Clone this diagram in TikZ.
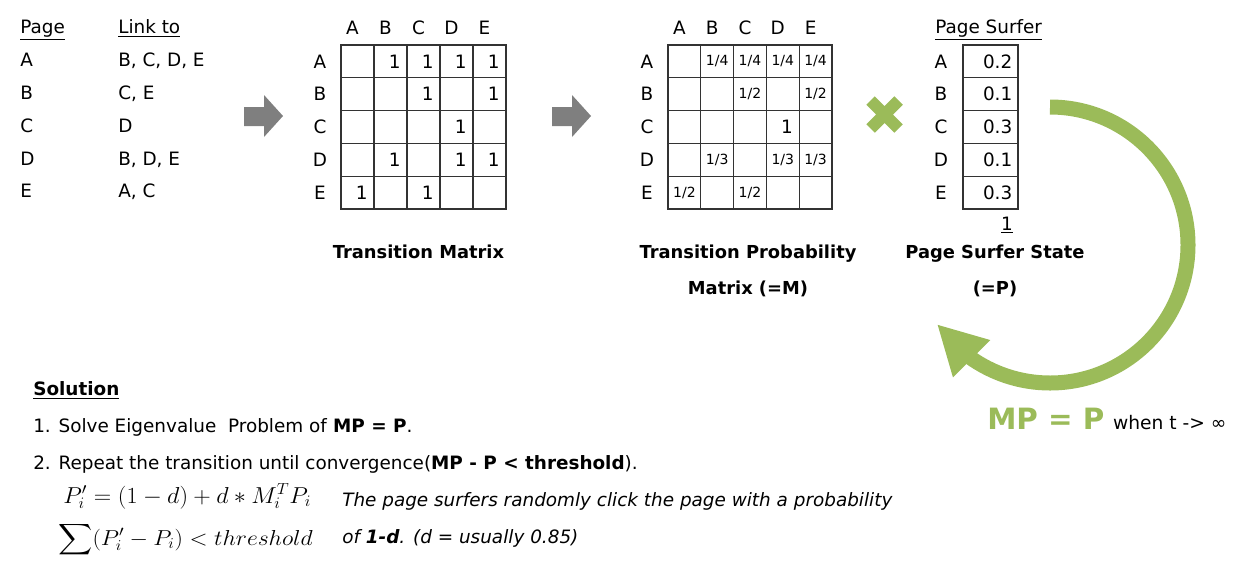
\documentclass[tikz,border=0pt]{standalone}
\usepackage{exscale}
\usepackage{fontspec}
\setmainfont{DejaVu Sans}
\usepackage{graphicx}
\usetikzlibrary{arrows.meta, bending, calc}

\definecolor{surfgreen}{HTML}{9BBB59}
\definecolor{blockgray}{HTML}{7F7F7F}
\newcommand{\basesize}{\fontsize{13.8}{16.5}\selectfont}
\newcommand{\fracsize}{\fontsize{10.5}{12}\selectfont}
\newcommand{\eqsize}{\fontsize{17.28}{21}\selectfont}

\begin{document}
\begin{tikzpicture}[x=0.75pt, y=-0.75pt, font=\basesize,
    txt/.style={anchor=base west, inner sep=0pt},
    head/.style={anchor=base, inner sep=0pt, font=\fontsize{13.4}{16}\selectfont\bfseries},
    cell/.style={draw=black!80, line width=0.8pt, minimum width=24.75pt, minimum height=24.6pt, inner sep=0pt},
    one/.style={anchor=east, inner sep=0pt, xshift=-5pt},
    frac/.style={inner sep=0pt, font=\fracsize},
    blockarrow/.style={fill=blockgray}]
    \useasboundingbox (0,0) rectangle (1256,572);

    % Link table
    \node[txt] (pagehead) at (20,33) {\underline{Page}};
    \node[txt] (linkhead) at (118,33) {\underline{Link to}};
    \foreach \p/\links [count=\i] in {A/{B, C, D, E}, B/{C, E}, C/D, D/{B, D, E}, E/{A, C}} {
        \node[txt] (page-\p) at (20, {66.7+32.8*(\i-1)}) {\p};
        \node[txt] (link-\p) at (118, {66.7+32.8*(\i-1)}) {\links};
    }

    \fill[blockarrow] (244,107) -- (264,107) -- (264,95) -- (283,116) -- (264,137) -- (264,126) -- (244,126) -- cycle;

    % Transition matrix
    \foreach \r [count=\i] in {A,B,C,D,E} {
        \node (tmrow-\r) at (320, {45+32.8*(\i-0.5)}) {\r};
        \node (tmcol-\r) at ({341+33*(\i-0.5)-5}, 28) {\r};
        \foreach \c [count=\j] in {A,B,C,D,E}
            \node[cell] (tm-\r-\c) at ({341+33*(\j-0.5)}, {45+32.8*(\i-0.5)}) {};
    }
    \foreach \cl in {A-B, A-C, A-D, A-E, B-C, B-E, C-D, D-B, D-D, D-E, E-A, E-C}
        \node[one] at (tm-\cl.east) {1};
    \node[head] (tmlabel) at (418.5,258) {Transition Matrix};

    \fill[blockarrow] (552,107) -- (572,107) -- (572,95) -- (591,116) -- (572,137) -- (572,126) -- (552,126) -- cycle;

    % Transition probability matrix
    \foreach \r [count=\i] in {A,B,C,D,E} {
        \node (pmrow-\r) at (647, {45+32.8*(\i-0.5)}) {\r};
        \node (pmcol-\r) at ({668+32.8*(\i-0.5)-5}, 28) {\r};
        \foreach \c [count=\j] in {A,B,C,D,E}
            \node[cell, minimum width=24.6pt] (pm-\r-\c) at ({668+32.8*(\j-0.5)}, {45+32.8*(\i-0.5)}) {};
    }
    \foreach \cl in {A-B, A-C, A-D, A-E}
        \node[frac] at (pm-\cl) {1/4};
    \foreach \cl in {B-C, B-E, E-A, E-C}
        \node[frac] at (pm-\cl) {1/2};
    \foreach \cl in {D-B, D-D, D-E}
        \node[frac] at (pm-\cl) {1/3};
    \node[one] at (pm-C-D.east) {1};
    \node[head] (pmlabel) at (748,258) {Transition Probability};
    \node[head] (pmlabel2) at (748,294) {Matrix (=M)};

    % times sign
    \draw[surfgreen, line width=9pt] (870.5,100.5) -- (898.5,128.5) (898.5,100.5) -- (870.5,128.5);

    % Page surfer vector
    \node[txt] (surfhead) at (935,33) {\underline{Page Surfer}};
    \foreach \r/\v [count=\i] in {A/0.2, B/0.1, C/0.3, D/0.1, E/0.3} {
        \node (psrow-\r) at (941, {45+32.8*(\i-0.5)}) {\r};
        \node[cell, minimum width=41.25pt] (ps-\r) at (990.5, {45+32.8*(\i-0.5)}) {};
        \node[one, xshift=0.5pt] at (ps-\r.east) {\v};
    }
    \node[anchor=base, inner sep=0pt] (pssum) at (1007,230) {\underline{1}};
    \node[head] (pslabel) at (995,258) {Page Surfer State};
    \node[head] (pslabel2) at (995,294) {(=P)};

    % Iteration loop
    \coordinate (loopstart) at (1050,107);
    \draw[surfgreen, line width=11.25pt, -{Triangle[length=36.75pt, width=36.75pt, flex]}]
        (loopstart) arc[start angle=-90, end angle=145, radius=138];
    \node[anchor=base west, inner sep=0pt, text=surfgreen, font=\fontsize{22}{26}\selectfont\bfseries] (mpp) at (987,429) {MP = P};
    \node[anchor=base west, inner sep=0pt, font=\fontsize{14}{16}\selectfont] (when) at ($(mpp.base east)+(8,0)$) {when t -> ∞};

    % Solution
    \node[txt, font=\basesize\bfseries] (soltitle) at (33,395) {\underline{Solution}};
    \node[txt] (step1) at (33,432) {1. Solve Eigenvalue\ \ Problem of \textbf{MP = P}.};
    \node[txt] (step2) at (33,469) {2. Repeat the transition until convergence(\textbf{MP - P < threshold}).};
    \node[txt, font=\eqsize] (eq1) at (63,503) {\scalebox{1.05}[1]{$P_i' = (1-d) + d*M_i^T P_i$}};
    \node[txt, font=\eqsize] (eq2) at (58,545) {\scalebox{1.03}[0.94]{$\displaystyle\sum(P_i' - P_i) < threshold$}};
    \node[txt, font=\basesize\itshape] (note1) at (342,506) {The page surfers randomly click the page with a probability};
    \node[txt, font=\basesize\itshape] (note2) at (342,543) {of \textbf{1-d}. (d = usually 0.85)};
\end{tikzpicture}
\end{document}
